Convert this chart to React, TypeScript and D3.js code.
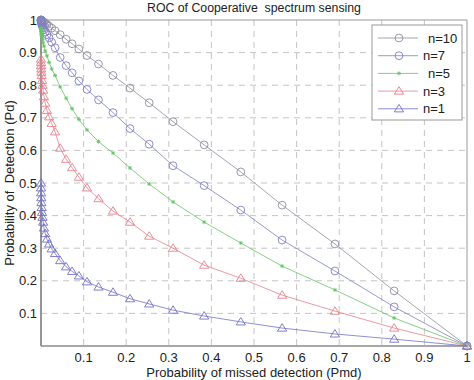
import React from "react";
import * as d3 from "d3";

const X = [0, 0.0001, 0.0003, 0.0006, 0.001, 0.0016, 0.0024, 0.0035, 0.005, 0.007, 0.010, 0.014, 0.019, 0.025, 0.033, 0.045, 0.059, 0.073, 0.089, 0.108, 0.135, 0.169, 0.209, 0.254, 0.310, 0.383, 0.469, 0.566, 0.690, 0.829, 1];
const N10 = [1, 1, 1, 0.999, 0.999, 0.998, 0.997, 0.996, 0.995, 0.993, 0.99, 0.986, 0.981, 0.975, 0.967, 0.955, 0.941, 0.927, 0.911, 0.891, 0.865, 0.830, 0.791, 0.746, 0.688, 0.617, 0.534, 0.432, 0.313, 0.169, 0];
const N7 = [1, 0.998, 0.996, 0.994, 0.991, 0.988, 0.984, 0.98, 0.976, 0.97, 0.963, 0.955, 0.945, 0.932, 0.915, 0.885, 0.86, 0.838, 0.813, 0.787, 0.755, 0.716, 0.667, 0.619, 0.553, 0.492, 0.417, 0.325, 0.230, 0.120, 0];
const N5 = [0.975, 0.97, 0.965, 0.96, 0.955, 0.95, 0.945, 0.94, 0.93, 0.92, 0.905, 0.89, 0.87, 0.85, 0.83, 0.795, 0.76, 0.728, 0.695, 0.663, 0.627, 0.592, 0.546, 0.497, 0.442, 0.380, 0.316, 0.245, 0.172, 0.086, 0];
const N3 = [0.88, 0.87, 0.86, 0.85, 0.84, 0.83, 0.815, 0.80, 0.785, 0.765, 0.745, 0.723, 0.703, 0.683, 0.657, 0.607, 0.573, 0.547, 0.518, 0.485, 0.452, 0.414, 0.380, 0.337, 0.300, 0.248, 0.208, 0.156, 0.107, 0.055, 0];
const N1 = [0.50, 0.485, 0.47, 0.455, 0.44, 0.425, 0.41, 0.395, 0.38, 0.362, 0.345, 0.328, 0.313, 0.298, 0.284, 0.262, 0.243, 0.229, 0.215, 0.197, 0.181, 0.165, 0.145, 0.129, 0.110, 0.092, 0.074, 0.055, 0.037, 0.021, 0];

const SERIES_LABELS = [" n=10", "n=7", " n=5", "n=3", "n=1"];
const SERIES_VALUES = [N10, N7, N5, N3, N1];
const SERIES_COLORS = ["#8e8ea0", "#8080c4", "#66c466", "#e8808c", "#7272c8"];
const SERIES_MARKERS = ["circle", "circle", "star", "triangle", "triangle"];

const X_TICKS = [0.1, 0.2, 0.3, 0.4, 0.5, 0.6, 0.7, 0.8, 0.9, 1];
const Y_TICKS = [0.1, 0.2, 0.3, 0.4, 0.5, 0.6, 0.7, 0.8, 0.9, 1];
const GRID = [0.1, 0.2, 0.3, 0.4, 0.5, 0.6, 0.7, 0.8, 0.9];

const W = 474, H = 380;
const L = 41, R = 467, T = 20, B = 346;
const FONT = "Arial, 'Liberation Sans', sans-serif";

function Marker({ type, x, y, color }: { type: string; x: number; y: number; color: string }) {
  if (type === "circle") return <circle cx={x} cy={y} r={3.9} fill="none" stroke={color} strokeWidth={0.9} />;
  if (type === "triangle") {
    const s = 4.4;
    return <path d={`M${x},${y - s}L${x + s * 1.05},${y + s * 0.7}L${x - s * 1.05},${y + s * 0.7}Z`} fill="none" stroke={color} strokeWidth={0.9} />;
  }
  const s = 2;
  return (
    <path d={`M${x - s},${y}L${x + s},${y}M${x},${y - s}L${x},${y + s}M${x - s * 0.7},${y - s * 0.7}L${x + s * 0.7},${y + s * 0.7}M${x - s * 0.7},${y + s * 0.7}L${x + s * 0.7},${y - s * 0.7}`} fill="none" stroke={color} strokeWidth={0.9} />
  );
}

export default function App() {
  const x = d3.scaleLinear().domain([0, 1]).range([L, R]);
  const y = d3.scaleLinear().domain([0, 1]).range([B, T]);
  const line = d3.line<number>().x((_, i) => x(X[i])).y((d) => y(d));

  const legX = 372, legY = 25, legW = 90, legH = 95;
  return (
    <svg width={W} height={H} style={{ position: "absolute", left: 0, top: 0, background: "#fff" }} fontFamily={FONT}>
      <rect x={0} y={0} width={W} height={H} fill="#fff" />
      {GRID.map((g) => (
        <g key={"g" + g}>
          <line x1={x(g)} x2={x(g)} y1={T} y2={B} stroke="#bdbdbd" strokeWidth={0.9} strokeDasharray="6,5" />
          <line x1={L} x2={R} y1={y(g)} y2={y(g)} stroke="#bdbdbd" strokeWidth={0.9} strokeDasharray="6,5" />
        </g>
      ))}
      <line x1={L} x2={R} y1={T} y2={T} stroke="#999" strokeWidth={1} />
      <line x1={R} x2={R} y1={T} y2={B} stroke="#999" strokeWidth={1} />
      <line x1={L} x2={R} y1={B} y2={B} stroke="#8a8a8a" strokeWidth={1.4} />
      <line x1={L} x2={L} y1={T} y2={B} stroke="#8a8a8a" strokeWidth={1.8} />
      {X_TICKS.map((t) => (
        <text key={"xt" + t} x={x(t)} y={362} fontSize={13} textAnchor="middle" fill="#222">{String(t)}</text>
      ))}
      {Y_TICKS.map((t) => (
        <text key={"yt" + t} x={37} y={y(t) + 4.5} fontSize={13} textAnchor="end" fill="#222">{String(t)}</text>
      ))}
      {SERIES_VALUES.map((vals, si) => (
        <g key={"s" + si}>
          <path d={line(vals) || ""} fill="none" stroke={SERIES_COLORS[si]} strokeWidth={0.8} />
          {vals.map((v, i) => (
            <Marker key={i} type={SERIES_MARKERS[si]} x={x(X[i])} y={y(v)} color={SERIES_COLORS[si]} />
          ))}
        </g>
      ))}
      <text x={(L + R) / 2} y={12} fontSize={12.3} textAnchor="middle" fill="#222" style={{ whiteSpace: "pre" }}>ROC of Cooperative  spectrum sensing</text>
      <text x={(L + R) / 2} y={377} fontSize={13} textAnchor="middle" fill="#222">Probability of missed detection (Pmd)</text>
      <text transform={`translate(14,${(T + B) / 2}) rotate(-90)`} fontSize={13} textAnchor="middle" fill="#222" style={{ whiteSpace: "pre" }}>Probability of  Detection (Pd)</text>
      <rect x={legX} y={legY} width={legW} height={legH} fill="#fff" stroke="#999" strokeWidth={1} />
      {SERIES_LABELS.map((lab, i) => {
        const ly = 38 + i * 17.7;
        const lead = lab.startsWith(" ") ? 5 : 0;
        return (
          <g key={"l" + i}>
            <line x1={378} x2={418} y1={ly} y2={ly} stroke={SERIES_COLORS[i]} strokeWidth={0.8} />
            <Marker type={SERIES_MARKERS[i]} x={399} y={ly} color={SERIES_COLORS[i]} />
            <text x={423 + lead} y={ly + 4.5} fontSize={13} fill="#222">{lab.trim()}</text>
          </g>
        );
      })}
    </svg>
  );
}
